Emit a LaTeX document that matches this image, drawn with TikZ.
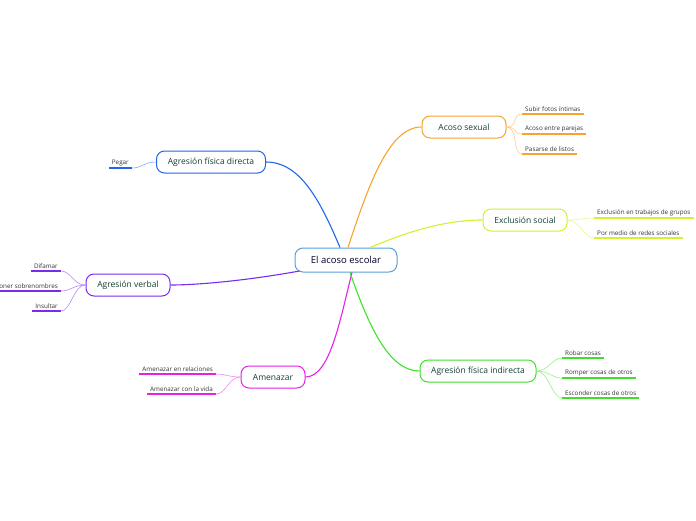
\documentclass[tikz,border=0pt]{standalone}
\usepackage{fontspec}
\setmainfont{Open Sans}
\definecolor{cor}{HTML}{F7A32E}
\definecolor{cye}{HTML}{D2F230}
\definecolor{cgr}{HTML}{3FE02A}
\definecolor{cma}{HTML}{E622E6}
\definecolor{cpu}{HTML}{7A2BF0}
\definecolor{cbl}{HTML}{2266EE}
\definecolor{cce}{HTML}{5AA0D8}
\definecolor{ctx}{HTML}{123F33}
\tikzset{
 topic/.style={draw=#1, line width=1pt, rounded corners=8pt, fill=white, text=ctx, font=\fontsize{8.5}{10}\selectfont, minimum height=22pt, inner xsep=8pt},
 leaf/.style={font=\fontsize{6.3}{7.5}\selectfont, text=black!80, inner xsep=3pt, inner ysep=2pt},
 ul/.style={draw=#1, line width=1.2pt},
 br/.style={draw=#1, line width=1.1pt},
 tw/.style={draw=#1!55, line width=0.6pt},
}
\begin{document}
\begin{tikzpicture}[x=1pt,y=1pt]
\useasboundingbox (0,0) rectangle (696,-520);
\node[topic=cce, minimum width=102pt, minimum height=24pt, text=black!85!blue, font=\fontsize{9.5}{11}\selectfont] (c) at (346,-260) {El acoso escolar};
\node[topic=cor, minimum width=84pt] (as) at (464,-127) {Acoso sexual};
\node[topic=cye, minimum width=84pt] (es) at (525,-220) {Exclusión social};
\node[topic=cgr, minimum width=116pt] (fi) at (478,-371) {Agresión física indirecta};
\node[topic=cma, minimum width=64pt] (am) at (273,-377) {Amenazar};
\node[topic=cpu, minimum width=84pt] (av) at (128,-285) {Agresión verbal};
\node[topic=cbl, minimum width=109pt] (fd) at (211,-162) {Agresión física directa};
% main branches
\draw[br=cbl] (c.north) ++(-6,0) coordinate (cb) .. controls (320,-200) and (300,-162) .. (fd.east);
\draw[br=cpu] (c.west) ++(5,-11) coordinate (cp) .. controls (250,-280) and (200,-285) .. (av.east);
\draw[br=cma] (c.south) ++(6,0) coordinate (cm) .. controls (340,-320) and (330,-377) .. (am.east);
\draw[br=cor] (c.north) ++(2,0) coordinate (co) .. controls (370,-180) and (390,-127) .. (as.west);
\draw[br=cye] (c.north) ++(24,0) coordinate (cy) .. controls (400,-235) and (440,-220) .. (es.west);
\draw[br=cgr] (c.south) ++(4,0) coordinate (cg) .. controls (370,-330) and (390,-371) .. (fi.west);
% leaves
\foreach \n/\t/\y in {a1/Subir fotos íntimas/114, a2/Acoso entre parejas/134, a3/Pasarse de listos/154}{
 \node[leaf, anchor=south west] (\n) at (522,-\y) {\t};
 \draw[ul=cor] (\n.south west) -- (\n.south east);
 \draw[tw=cor] (as.east) .. controls +(12,0) and +(-10,0) .. (\n.south west);}
\foreach \n/\t/\y in {e1/Exclusión en trabajos de grupos/218, e2/Por medio de redes sociales/238}{
 \node[leaf, anchor=south west] (\n) at (594,-\y) {\t};
 \draw[ul=cye] (\n.south west) -- (\n.south east);
 \draw[tw=cye] (es.east) .. controls +(12,0) and +(-10,0) .. (\n.south west);}
\foreach \n/\t/\y in {g1/Robar cosas/358, g2/Romper cosas de otros/378, g3/Esconder cosas de otros/398}{
 \node[leaf, anchor=south west] (\n) at (562,-\y) {\t};
 \draw[ul=cgr] (\n.south west) -- (\n.south east);
 \draw[tw=cgr] (fi.east) .. controls +(12,0) and +(-10,0) .. (\n.south west);}
\foreach \n/\t/\y in {m1/Amenazar en relaciones/374, m2/Amenazar con la vida/394}{
 \node[leaf, anchor=south east] (\n) at (216,-\y) {\t};
 \draw[ul=cma] (\n.south west) -- (\n.south east);
 \draw[tw=cma] (am.west) .. controls +(-12,0) and +(10,0) .. (\n.south east);}
\foreach \n/\t/\y in {v1/Difamar/271, v2/Poner sobrenombres/291, v3/Insultar/311}{
 \node[leaf, anchor=south east] (\n) at (61,-\y) {\t};
 \draw[ul=cpu] (\n.south west) -- (\n.south east);
 \draw[tw=cpu] (av.west) .. controls +(-12,0) and +(10,0) .. (\n.south east);}
\node[leaf, anchor=south east] (p1) at (132,-168) {Pegar};
\draw[ul=cbl] (p1.south west) -- (p1.south east);
\draw[tw=cbl] (fd.west) .. controls +(-12,0) and +(10,0) .. (p1.south east);
\end{tikzpicture}
\end{document}
